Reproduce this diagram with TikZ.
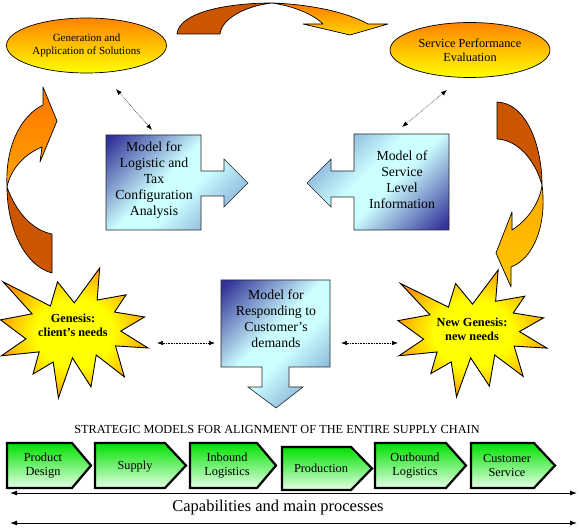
\documentclass[tikz,border=0pt]{standalone}
\usepackage{fontspec}
\setmainfont{Liberation Serif}
\usetikzlibrary{arrows.meta,shapes.geometric}
\pgfdeclareradialshading{burst}{\pgfpoint{0bp}{0bp}}{rgb(0bp)=(1,1,0); rgb(13bp)=(1,1,0); rgb(20bp)=(1,0.8,0); rgb(27bp)=(1,0.58,0); rgb(50bp)=(1,0.58,0)}
\pgfdeclarehorizontalshading{bluediag}{100bp}{rgb(0bp)=(0.2,0.2,0.6); rgb(17bp)=(0.2,0.2,0.6); rgb(45bp)=(0.8,1,1); rgb(56bp)=(0.8,1,1); rgb(84bp)=(0.4,0.55,0.78); rgb(100bp)=(0.4,0.55,0.78)}
\definecolor{darkorg}{RGB}{204,85,0}
\definecolor{taone}{RGB}{255,120,0}
\definecolor{tatwo}{RGB}{255,215,0}
\definecolor{laone}{RGB}{255,115,0}
\definecolor{latwo}{RGB}{255,165,0}
\definecolor{raone}{RGB}{255,170,0}
\definecolor{ratwo}{RGB}{255,200,0}
\definecolor{elltop}{RGB}{255,130,0}
\definecolor{ellmid}{RGB}{255,200,0}
\definecolor{ellbot}{RGB}{255,255,0}
\definecolor{grtop}{RGB}{0,225,0}
\definecolor{grmid}{RGB}{140,255,140}
\definecolor{grbot}{RGB}{230,255,230}
\tikzset{
  curl/.style={draw=black, line width=0.7pt, line join=round},
  darkpart/.style={curl, fill=darkorg},
  bluebox/.style={shade, shading=bluediag, draw=black!85, line width=0.6pt, line join=miter},
  ellnode/.style={ellipse, draw=black, line width=0.7pt, top color=elltop, middle color=ellmid, bottom color=ellbot, minimum width=160pt, minimum height=55pt, inner sep=0pt, align=center},
  boxtxt/.style={align=center, inner sep=0pt, font=\fontsize{13.8}{16}\selectfont},
  startxt/.style={align=center, inner sep=0pt, font=\bfseries\fontsize{12.3}{14}\selectfont},
  burststy/.style={shade, shading=burst, draw=black, line width=0.9pt, line join=miter},
  chev/.style={draw=black, line width=2.2pt, line join=miter, top color=grtop, middle color=grmid, bottom color=grbot},
  chevtxt/.style={align=center, inner sep=0pt, font=\fontsize{12.3}{14}\selectfont},
  dotarr/.style={densely dotted, line width=0.6pt, {Latex[length=6pt,width=4.5pt]}-{Latex[length=6pt,width=4.5pt]}},
  longarr/.style={line width=0.9pt, {Latex[length=7pt,width=5pt]}-{Latex[length=7pt,width=5pt]}}
}
\begin{document}
\begin{tikzpicture}[x=1pt,y=-1pt]
\useasboundingbox (0,0) rectangle (579,529);
% top curved arrow
\path[darkpart] (177,34) .. controls (179,12) and (228,3) .. (272,3) .. controls (246,6) and (222,18) .. (220,34) -- cycle;
\path[curl, top color=taone, bottom color=tatwo] (272,3) .. controls (305,4) and (345,11) .. (368,24) -- (388,24) -- (350,35) -- (303,24) -- (323,24) .. controls (313,14) and (293,6) .. (272,3) -- cycle;
% left curved arrow
\path[darkpart] (52,234) -- (52,273) .. controls (25,266) and (7,228) .. (7,187) .. controls (16,212) and (32,230) .. (52,234) -- cycle;
\path[curl, top color=laone, bottom color=latwo] (7,187) .. controls (5,148) and (20,116) .. (43,105) -- (43,87) -- (57,121) -- (40,162) -- (42,147) .. controls (25,154) and (11,168) .. (7,187) -- cycle;
% right curved arrow
\path[darkpart] (497,139) -- (497,102) .. controls (526,103) and (542,145) .. (542,185) .. controls (535,160) and (518,140) .. (497,139) -- cycle;
\path[curl, top color=raone, bottom color=ratwo] (542,185) .. controls (547,222) and (535,258) .. (511,267) -- (511,287) -- (496,253) -- (512,212) -- (512,230) .. controls (528,220) and (540,202) .. (542,185) -- cycle;
% ellipses
\node[ellnode, font=\fontsize{11}{13}\selectfont] (gen) at (86.5,45.5) {Generation and\\Application of Solutions};
\node[ellnode, font=\fontsize{12.3}{14}\selectfont] (spe) at (470,50) {Service Performance\\Evaluation};
% blue boxes
\path[bluebox, shading angle=-45] (106,135) -- (201,135) -- (201,171) -- (224,171) -- (224,159) -- (248,183) -- (224,207) -- (224,196) -- (201,196) -- (201,230) -- (106,230) -- cycle;
\path[bluebox, shading angle=135] (449,134) -- (449,230) -- (354,230) -- (354,197) -- (331,197) -- (331,207) -- (307,183) -- (331,159) -- (331,171) -- (354,171) -- (354,134) -- cycle;
\path[bluebox, shading angle=-45] (221,280) -- (330,280) -- (330,367) -- (289,367) -- (289,387) -- (303,387) -- (276,408) -- (248,387) -- (262,387) -- (262,367) -- (221,367) -- cycle;
\node[boxtxt] (mltc) at (154,180) {Model for\\Logistic and\\Tax\\Configuration\\Analysis};
\node[boxtxt] (msli) at (402,180) {Model of\\Service\\Level\\Information};
\node[boxtxt] (mrcd) at (276,319) {Model for\\Responding to\\Customer’s\\demands};
% stars
\begin{scope}[shift={(0.5,268)}, xscale=0.68287, yscale=0.60185]
\path[burststy] (108,58) -- (145.22,0) -- (141.55,53.25) -- (183.80,44.57) -- (167.02,73.15) -- (210.97,81.37) -- (176.07,104.75) -- (216,132.90) -- (168.37,129.42) -- (181.45,180.95) -- (140.20,144.57) -- (132.47,197.37) -- (105.32,149.35) -- (84.85,216) -- (77.15,156.27) -- (47.62,176.17) -- (56.67,139.37) -- (1.35,145.87) -- (37.22,117.75) -- (0,86.15) -- (46.27,76.17) -- (3.70,22.95) -- (73.12,63.20) -- (83.52,22.95) -- cycle;
\end{scope}
\begin{scope}[shift={(398,270)}, xscale=0.68981, yscale=0.58796]
\path[burststy] (108,58) -- (145.22,0) -- (141.55,53.25) -- (183.80,44.57) -- (167.02,73.15) -- (210.97,81.37) -- (176.07,104.75) -- (216,132.90) -- (168.37,129.42) -- (181.45,180.95) -- (140.20,144.57) -- (132.47,197.37) -- (105.32,149.35) -- (84.85,216) -- (77.15,156.27) -- (47.62,176.17) -- (56.67,139.37) -- (1.35,145.87) -- (37.22,117.75) -- (0,86.15) -- (46.27,76.17) -- (3.70,22.95) -- (73.12,63.20) -- (83.52,22.95) -- cycle;
\end{scope}
\node[startxt] (gcn) at (73,325) {Genesis:\\client’s needs};
\node[startxt] (ngn) at (472,329) {New Genesis:\\new needs};
% dotted double arrows
\coordinate (d1a) at (116,89);
\coordinate (d1b) at (152,130);
\coordinate (d2a) at (447,90);
\coordinate (d2b) at (402,127);
\coordinate (d3a) at (157,343);
\coordinate (d3b) at (215,343);
\coordinate (d4a) at (341,343);
\coordinate (d4b) at (398,343);
\draw[dotarr] (d1a) -- (d1b);
\draw[dotarr] (d2a) -- (d2b);
\draw[dotarr] (d3a) -- (d3b);
\draw[dotarr] (d4a) -- (d4b);
% title
\node[inner sep=0pt, font=\fontsize{12.3}{14}\selectfont] (title) at (277,429) {STRATEGIC MODELS FOR ALIGNMENT OF THE ENTIRE SUPPLY CHAIN};
% chevrons
\path[chev] (7,443) -- (72,443) -- (91,465.5) -- (72,488) -- (7,488) -- cycle;
\path[chev] (95,443) -- (165,443) -- (186,465.5) -- (165,488) -- (95,488) -- cycle;
\path[chev] (190,443) -- (257,443) -- (276,465.5) -- (257,488) -- (190,488) -- cycle;
\path[chev] (282,447) -- (351,447) -- (372,468.5) -- (351,490) -- (282,490) -- cycle;
\path[chev] (375,443) -- (446,443) -- (466,465.5) -- (446,488) -- (375,488) -- cycle;
\path[chev] (471,443) -- (534,443) -- (555,465.5) -- (534,488) -- (471,488) -- cycle;
\node[chevtxt] (c1) at (43,465.5) {Product\\Design};
\node[chevtxt] (c2) at (135,467) {Supply};
\node[chevtxt] (c3) at (227,465.5) {Inbound\\Logistics};
\node[chevtxt] (c4) at (321,468.5) {Production};
\node[chevtxt] (c5) at (415,465.5) {Outbound\\Logistics};
\node[chevtxt] (c6) at (507,465.5) {Customer\\Service};
% long arrows
\coordinate (l1a) at (10,493);
\coordinate (l1b) at (577,493);
\coordinate (l2a) at (10,523);
\coordinate (l2b) at (577,523);
\draw[longarr] (l1a) -- (l1b);
\draw[longarr] (l2a) -- (l2b);
\node[inner sep=0pt, font=\fontsize{16.5}{18}\selectfont] (cap) at (278,508) {Capabilities and main processes};
\end{tikzpicture}
\end{document}
